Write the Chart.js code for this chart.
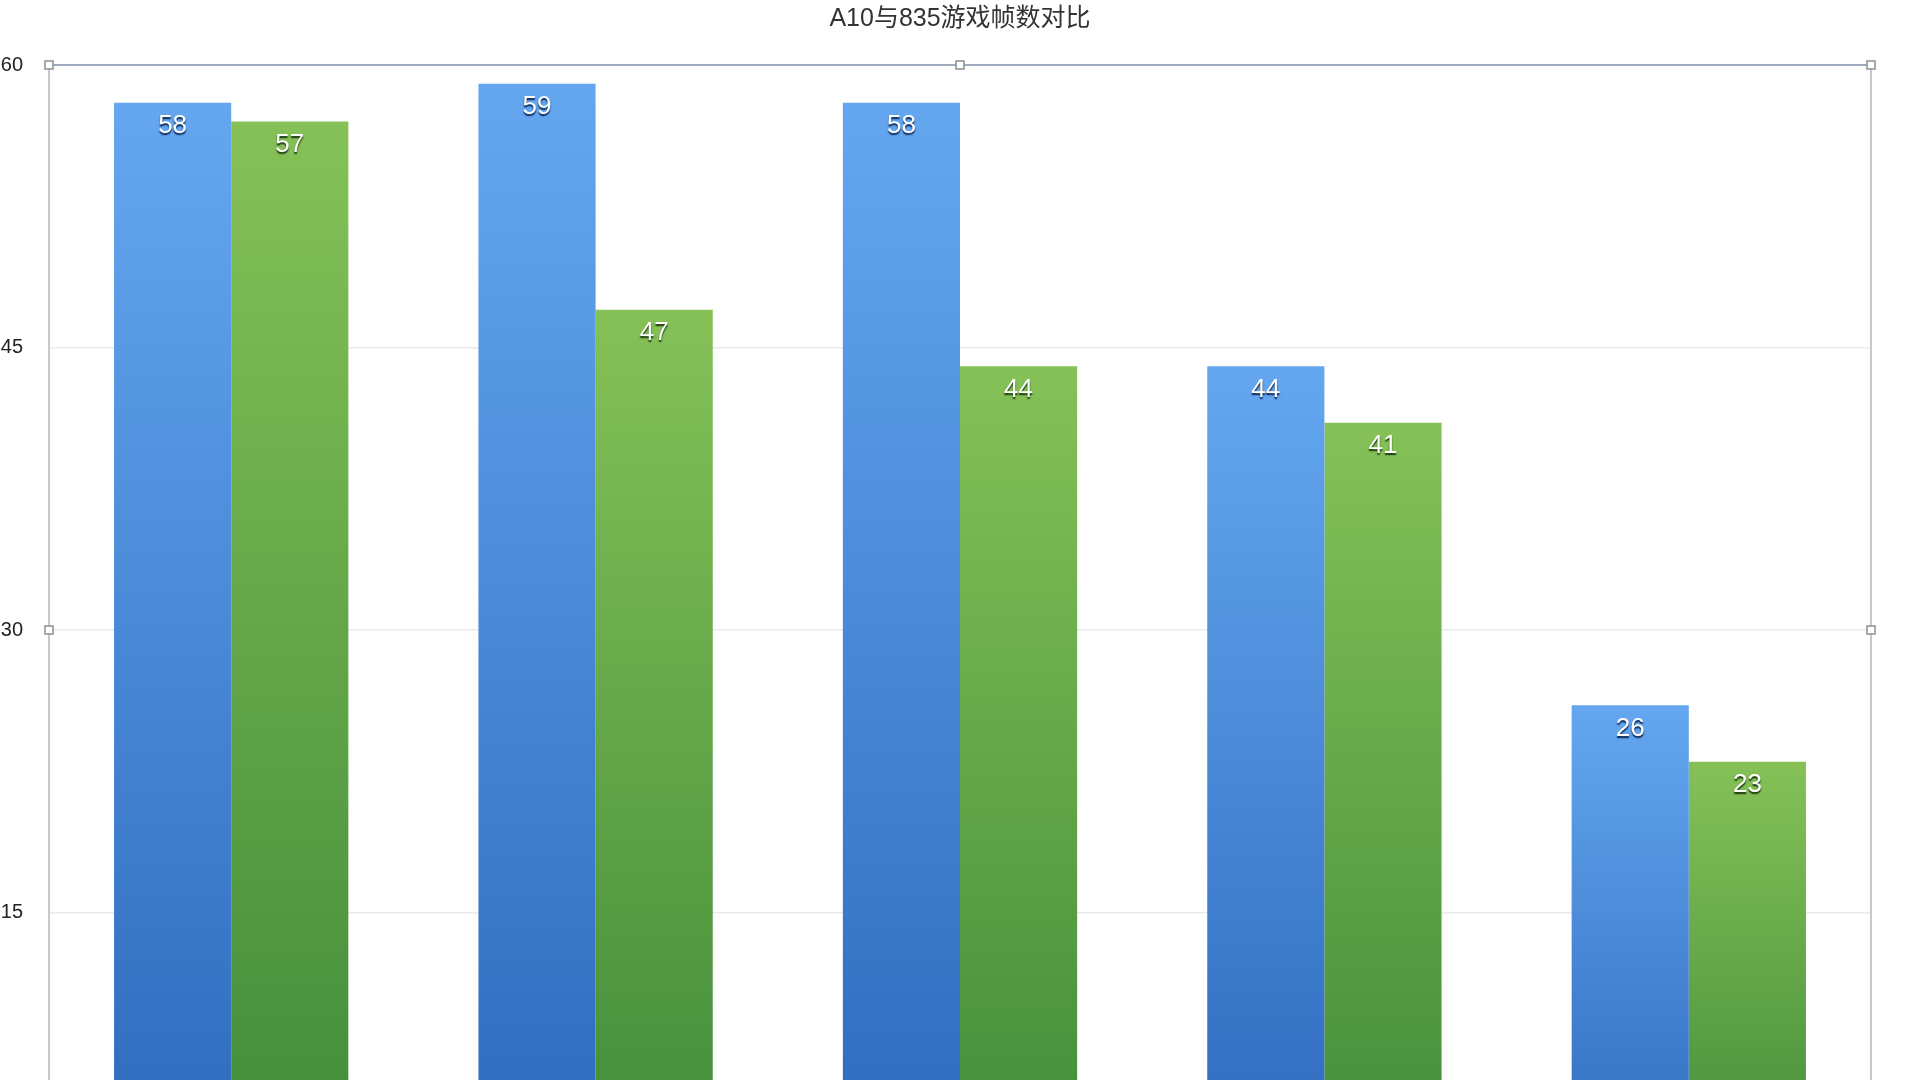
<!DOCTYPE html>
<html><head><meta charset="utf-8">
<style>html,body{margin:0;padding:0;background:#fff;overflow:hidden;width:1920px;height:1080px}
#wrap{position:absolute;left:0;top:0;width:1920px;height:1233px}</style>
<script src="https://cdn.jsdelivr.net/npm/chart.js@4"></script>
</head><body><div id="wrap"><canvas id="c" width="1920" height="1233"></canvas></div>
<script>
const title = 'A10与835游戏帧数对比';
const categories = ['游戏1', '游戏2', '游戏3', '游戏4', '游戏5'];
const seriesNames = ['A10', '835'];
const a10Values = [58, 59, 58, 44, 26];
const sd835Values = [57, 47, 44, 41, 23];
const yTicks = [0, 15, 30, 45, 60];

function grad(top, bottom) {
  return function (ctx) {
    const chart = ctx.chart; const ca = chart.chartArea;
    if (!ca || ctx.type !== 'data') return top;
    const y = chart.scales.y;
    const yt = y.getPixelForValue(ctx.parsed.y), yb = y.getPixelForValue(0);
    const g = chart.ctx.createLinearGradient(0, yt, 0, yb);
    g.addColorStop(0, top); g.addColorStop(1, bottom);
    return g;
  };
}

const decor = {
  id: 'decor',
  afterDatasetsDraw(chart) {
    const c = chart.ctx, ca = chart.chartArea;
    c.save();
    c.strokeStyle = '#c4c8cf'; c.lineWidth = 2;
    c.beginPath(); c.moveTo(ca.right, ca.top); c.lineTo(ca.right, ca.bottom); c.stroke();
    c.strokeStyle = '#9ea9bd';
    c.beginPath(); c.moveTo(ca.left, ca.top); c.lineTo(ca.right, ca.top); c.stroke();
    // data labels
    c.font = '26px "Liberation Sans", Arial, sans-serif';
    c.textAlign = 'center'; c.textBaseline = 'middle';
    const shadows = ['rgba(8,30,75,1)', 'rgba(20,48,10,1)'];
    chart.data.datasets.forEach((ds, di) => {
      const meta = chart.getDatasetMeta(di);
      meta.data.forEach((bar, i) => {
        c.save();
        c.shadowColor = shadows[di]; c.shadowOffsetX = 0; c.shadowOffsetY = 2; c.shadowBlur = 1.5;
        c.fillStyle = '#ffffff';
        c.fillText(String(ds.data[i]), bar.x, bar.y + 23);
        c.restore();
      });
    });
    // selection handles
    const midY = (ca.top + ca.bottom) / 2, midX = (ca.left + ca.right) / 2;
    const pts = [[ca.left, ca.top], [midX, ca.top], [ca.right, ca.top], [ca.left, midY], [ca.right, midY], [ca.left, ca.bottom], [midX, ca.bottom], [ca.right, ca.bottom]];
    c.lineWidth = 1.5; c.strokeStyle = '#8a8e96'; c.fillStyle = '#ffffff';
    pts.forEach(p => { c.fillRect(p[0] - 4, p[1] - 4, 8, 8); c.strokeRect(p[0] - 4, p[1] - 4, 8, 8); });
    c.restore();
  }
};

new Chart(document.getElementById('c'), {
  type: 'bar',
  data: {
    labels: categories,
    datasets: [
      { label: seriesNames[0], data: a10Values, backgroundColor: grad('#64a7f0', '#2c68bb'), borderWidth: 0, categoryPercentage: 0.643, barPercentage: 1.0 },
      { label: seriesNames[1], data: sd835Values, backgroundColor: grad('#85c157', '#3f8a39'), borderWidth: 0, categoryPercentage: 0.643, barPercentage: 1.0 }
    ]
  },
  options: {
    responsive: false, animation: false, devicePixelRatio: 1,
    layout: { padding: { left: 0, right: 0, top: 0, bottom: 7 } },
    plugins: {
      legend: { display: false }, tooltip: { enabled: false },
      title: { display: true, text: title, color: '#333333', font: { size: 25, family: '"Liberation Sans", "Noto Sans CJK SC", sans-serif', weight: 'normal' }, padding: { top: 4, bottom: 31 } }
    },
    scales: {
      x: { display: false },
      y: {
        min: 0, max: 60,
        afterBuildTicks(s) { s.ticks = yTicks.map(v => ({ value: v })); },
        afterFit(s) { s.width = 49; },
        border: { display: true, color: '#c4c8cf', width: 2 },
        grid: { drawTicks: false, color: ctx => (ctx.tick && ctx.tick.value === 60) ? 'rgba(0,0,0,0)' : '#e9eaec', lineWidth: 1.5 },
        ticks: { padding: 26, color: '#222', font: { size: 20, family: '"Liberation Sans", Arial, sans-serif' } }
      },
      yRight: {
        position: 'right', min: 0, max: 60,
        afterFit(s) { s.width = 49; },
        border: { display: false },
        grid: { display: false, drawTicks: false },
        ticks: { display: false }
      }
    }
  },
  plugins: [decor]
});
</script></body></html>
